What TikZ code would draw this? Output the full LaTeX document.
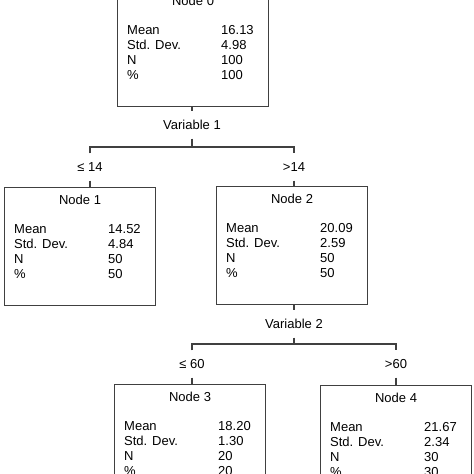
\documentclass[tikz,border=0pt]{standalone}
\usepackage{fontspec}
\setmainfont{Liberation Sans}
\usetikzlibrary{positioning,calc}
\newcommand{\TreeFont}{\fontsize{13pt}{15pt}\selectfont}
\tikzset{
  tree line/.style={draw=black!75, line width=1.1pt},
  treebox/.style={
    tree line, rectangle, anchor=north west,
    minimum width=151pt, minimum height=118pt, inner sep=0pt
  },
  boxtitle/.style={font=\TreeFont, inner sep=0pt},
  statlabel/.style={font=\TreeFont, anchor=west, inner sep=0pt},
  statvalue/.style={font=\TreeFont, anchor=west, inner sep=0pt},
  splitlabel/.style={font=\TreeFont, minimum height=27pt, inner sep=0pt},
  branchlabel/.style={font=\TreeFont, minimum height=27pt, inner sep=0pt}
}

\begin{document}
\begin{tikzpicture}[x=1pt,y=-1pt]
  \fill[white] (0,0) rectangle (474,474);
  \useasboundingbox (0,0) rectangle (474,474);
  % boxes with their statistics
  \foreach \id/\left/\top/\mean/\sd/\n/\pct in {
      0/117/-12/16.13/4.98/100/100,
      1/4/187/14.52/4.84/50/50,
      2/216/186/20.09/2.59/50/50,
      3/114/384/18.20/1.30/20/20,
      4/320/385/21.67/2.34/30/30} {
    \node[treebox] (node\id) at (\left,\top) {};
    \node[boxtitle] (node\id-title) at ($(node\id.north)+(0,13)$) {Node \id};
    \node[statlabel] (node\id-mean) at ($(node\id.north west)+(10,42)$) {Mean};
    \node[statlabel] (node\id-sd) at ($(node\id.north west)+(10,57)$) {Std. Dev.};
    \node[statlabel] (node\id-n) at ($(node\id.north west)+(10,72)$) {N};
    \node[statlabel] (node\id-pct) at ($(node\id.north west)+(10,87)$) {\%};
    \node[statvalue] (node\id-meanval) at ($(node\id.north west)+(104,42)$) {\mean};
    \node[statvalue] (node\id-sdval) at ($(node\id.north west)+(104,57)$) {\sd};
    \node[statvalue] (node\id-nval) at ($(node\id.north west)+(104,72)$) {\n};
    \node[statvalue] (node\id-pctval) at ($(node\id.north west)+(104,87)$) {\pct};
  }
  % split variables and branch conditions
  \node[splitlabel] (split0) at (192,125) {Variable 1};
  \node[splitlabel] (split2) at (294,324) {Variable 2};
  \coordinate (fork0) at (192,147);
  \coordinate (fork2) at (294,344);
  \node[branchlabel] (branch1) at (90,167) {≤ 14};
  \node[branchlabel] (branch2) at (294,167) {>14};
  \node[branchlabel] (branch3) at (192,364) {≤ 60};
  \node[branchlabel] (branch4) at (396,364) {>60};
  % connectors
  \draw[tree line] (node0.south -| split0) -- (split0.north);
  \draw[tree line] (split0.south) -- (fork0);
  \draw[tree line] (branch1.north) -- (branch1.north |- fork0) -- (branch2.north |- fork0) -- (branch2.north);
  \draw[tree line] (branch1.south) -- (branch1.south |- node1.north);
  \draw[tree line] (branch2.south) -- (branch2.south |- node2.north);
  \draw[tree line] (node2.south -| split2) -- (split2.north);
  \draw[tree line] (split2.south) -- (fork2);
  \draw[tree line] (branch3.north) -- (branch3.north |- fork2) -- (branch4.north |- fork2) -- (branch4.north);
  \draw[tree line] (branch3.south) -- (branch3.south |- node3.north);
  \draw[tree line] (branch4.south) -- (branch4.south |- node4.north);
\end{tikzpicture}
\end{document}
